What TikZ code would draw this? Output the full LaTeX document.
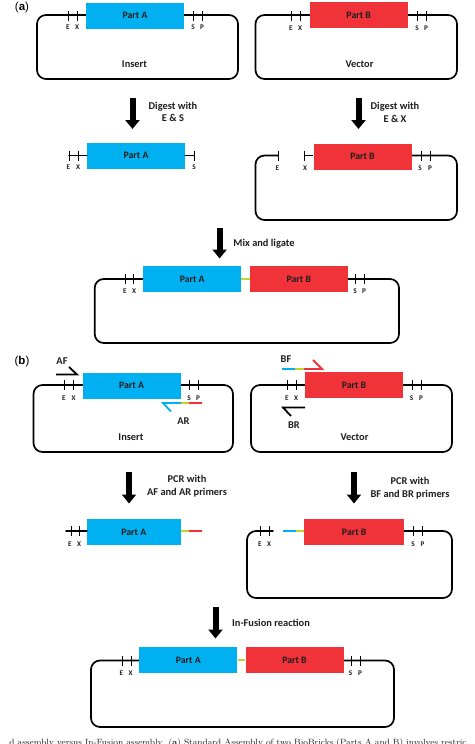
\documentclass[tikz,border=0pt]{standalone}
\usepackage{fontspec}
\setmainfont{Carlito}
\newfontfamily\headfont{Liberation Sans}
\newfontfamily\capfont{Latin Modern Roman}
\usetikzlibrary{arrows.meta}
\definecolor{pblue}{HTML}{00B0F0}
\definecolor{pred}{HTML}{EF3339}
\definecolor{pyellow}{HTML}{C6D02F}
\definecolor{ink}{HTML}{1E1E1E}
\tikzset{
  partbox/.style={fill=#1,minimum width=98pt,minimum height=26pt,inner sep=0pt,text=ink,font=\fontsize{9.8}{11}\selectfont\bfseries},
  dna/.style={draw=black,line width=1.7pt,line cap=round},
  plasmid/.style={dna,rounded corners=9pt},
  nick/.style={draw=black,line width=0.9pt},
  site/.style={inner sep=0pt,text=ink,font=\fontsize{7.2}{8}\selectfont\bfseries},
  lbl/.style={inner sep=0pt,text=ink,align=center,font=\fontsize{10.4}{12.6}\selectfont\bfseries},
  panel/.style={inner sep=0pt,text=black,font=\fontsize{11.5}{13}\headfont},
  bigarrow/.style={draw=black,line width=6pt,-{Triangle[width=14pt,length=9pt]}},
  prim/.style={line width=1.8pt},
}
% \sitetick{x}{y}{label}{label x}{label y}
\newcommand{\sitetick}[5]{\draw[nick] (#1,#2-5) -- (#1,#2+5); \node[site] at (#4,#5) {#3};}
\begin{document}
\begin{tikzpicture}[x=1pt,y=-1pt]
\useasboundingbox (0,0) rectangle (474,744);
\fill[white] (0,0) rectangle (474,744);

% ---------- panel a ----------
\node[panel] (pa) at (22,8) {(\textbf{a})};

\draw[plasmid] (86,15) -| (37,79) -| (238,15) -- (184,15);
\node[partbox=pblue] (a1) at (135,15.7) {Part A};
\sitetick{68}{15.5}{E}{68}{27.5}\sitetick{77}{15.5}{X}{77}{27.5}
\sitetick{193}{15.5}{S}{193}{27.5}\sitetick{202}{15.5}{P}{202}{27.5}
\node[lbl] (t1) at (134.5,64.5) {Insert};

\draw[plasmid] (309.5,15) -| (255.5,79) -| (457,15) -- (408,15);
\node[partbox=pred] (b1) at (358.7,15.3) {Part B};
\sitetick{291}{15.5}{E}{291}{28}\sitetick{300}{15.5}{X}{300}{28}
\sitetick{417}{15.5}{S}{417}{28}\sitetick{426}{15.5}{P}{426}{28}
\node[lbl] (t2) at (359.5,64.5) {Vector};

\coordinate (ar1s) at (132.5,98); \coordinate (ar1e) at (132.5,129);
\draw[bigarrow] (ar1s) -- (ar1e);
\node[lbl] (t3) at (173,112) {Digest with\\E \& S};
\coordinate (ar2s) at (358.5,98); \coordinate (ar2e) at (358.5,129);
\draw[bigarrow] (ar2s) -- (ar2e);
\node[lbl] (t4) at (395,112.5) {Digest with\\E \& X};

\node[partbox=pblue] (a2) at (136,155.7) {Part A};
\coordinate (a2l) at (69,155.5); \coordinate (a2r) at (194,155.5);
\draw[dna] (a2l) -- (a2.west |- a2l); \draw[dna] (a2.east |- a2r) -- (a2r);
\sitetick{69}{155.5}{E}{68.5}{167}\sitetick{78}{155.5}{X}{78}{167}
\sitetick{194}{155.5}{S}{194}{167}

\coordinate (b2e) at (278,155.5);
\draw[plasmid] (b2e) -| (255.5,220) -| (457,155.5) -- (412,155.5);
\node[partbox=pred] (b2) at (362.5,156.5) {Part B};
\draw[draw=black,line width=0.8pt] (304,155.5) -- (b2.west |- 0,155.5);
\sitetick{278}{155.5}{E}{277.5}{168}\sitetick{304}{155.5}{X}{305}{168}
\sitetick{421}{155.5}{S}{420}{168}\sitetick{430}{155.5}{P}{430}{168}

\coordinate (ar3s) at (219.6,228); \coordinate (ar3e) at (219.6,258.5);
\draw[bigarrow] (ar3s) -- (ar3e);
\node[lbl] (t5) at (264,243.5) {Mix and ligate};

\draw[plasmid] (143,279) -| (94.7,343) -| (399,279) -- (348,279);
\node[partbox=pblue] (a3) at (192.2,279) {Part A};
\node[partbox=pred] (b3) at (298.8,279) {Part B};
\draw[pyellow,line width=1.7pt] (a3.east) -- (b3.west);
\sitetick{125}{279}{E}{125}{291.5}\sitetick{133.5}{279}{X}{134}{291.5}
\sitetick{355}{279}{S}{355}{291.5}\sitetick{364}{279}{P}{364}{291.5}

% ---------- panel b ----------
\node[panel] (pb) at (22,362) {(\textbf{b})};

\draw[plasmid] (82.5,385) -| (33.5,452) -| (233,385) -- (180.5,385);
\node[partbox=pblue] (a4) at (131.5,385.5) {Part A};
\sitetick{64.5}{385}{E}{64}{398}\sitetick{73}{385}{X}{73.5}{398}
\sitetick{189}{385}{S}{189}{398}\sitetick{198}{385}{P}{198}{398}
\node[lbl] (t6) at (131,437) {Insert};
\node[lbl] (af) at (62,361) {AF};
\draw[prim,black] (56,374.5) -- (77,374.5) -- (69,367);
\node[lbl] (ar) at (183.5,421) {AR};
\draw[prim,pblue] (171,411.5) -- (163,403) -- (181,403);
\draw[prim,pyellow] (181,403) -- (189,403);
\draw[prim,pred] (189,403) -- (202,403);

\draw[plasmid] (305,385) -| (251,452) -| (452,385) -- (403,385);
\node[partbox=pred] (b4) at (354,385) {Part B};
\sitetick{287}{385}{E}{287}{398}\sitetick{296}{385}{X}{296}{398}
\sitetick{412}{385}{S}{411.5}{398}\sitetick{421}{385}{P}{421}{398}
\node[lbl] (t7) at (354.5,437) {Vector};
\node[lbl] (bf) at (286,359) {BF};
\draw[prim,pblue] (282,369) -- (295,369);
\draw[prim,pyellow] (295,369) -- (304,369);
\draw[prim,pred] (304,369) -- (322,369) -- (313,360);
\node[lbl] (br) at (294,425) {BR};
\draw[prim,black] (305,407.5) -- (283,407.5) -- (291,416);

\coordinate (ar4s) at (129,472); \coordinate (ar4e) at (129,503.5);
\draw[bigarrow] (ar4s) -- (ar4e);
\node[lbl] (t8) at (187,486) {PCR with\\AF and AR primers};
\coordinate (ar5s) at (354,472); \coordinate (ar5e) at (354,503.5);
\draw[bigarrow] (ar5s) -- (ar5e);
\node[lbl] (t9) at (410,488) {PCR with\\BF and BR primers};

\node[partbox=pblue,minimum width=93.5pt] (a5) at (133.8,532) {Part A};
\coordinate (a5l) at (66,531);
\draw[dna] (a5l) -- (a5.west |- a5l);
\sitetick{71}{531}{E}{70}{544}\sitetick{79.5}{531}{X}{79}{544}
\draw[prim,pyellow] (a5.east |- a5l) -- (189,531);
\draw[prim,pred] (189,531) -- (202,531);

\coordinate (b5e) at (273,531);
\draw[plasmid] (b5e) -| (247,598) -| (452,531) -- (404,531);
\node[partbox=pred,minimum width=99.5pt] (b5) at (354.2,532) {Part B};
\draw[prim,pblue] (282.5,531) -- (296,531);
\draw[prim,pyellow] (296,531) -- (b5.west |- b5e);
\sitetick{260}{531}{E}{260}{544.5}\sitetick{269}{531}{X}{269}{544.5}
\sitetick{413}{531}{S}{413}{544.5}\sitetick{422}{531}{P}{422.5}{544.5}

\coordinate (ar6s) at (215.5,607); \coordinate (ar6e) at (215.5,638.5);
\draw[bigarrow] (ar6s) -- (ar6e);
\node[lbl] (t10) at (271,623) {In-Fusion reaction};

\draw[plasmid] (139.5,660.5) -| (91,727) -| (394,660.5) -- (343.5,660.5);
\node[partbox=pblue] (a6) at (188.3,660.3) {Part A};
\node[partbox=pred] (b6) at (294.5,660.3) {Part B};
\draw[pyellow,line width=1.7pt] (a6.east) -- (b6.west);
\sitetick{122}{660.5}{E}{121.5}{673}\sitetick{131}{660.5}{X}{130.5}{673}
\sitetick{351}{660.5}{S}{350.5}{673}\sitetick{360}{660.5}{P}{360}{673}

% cut-off caption line at the page edge
\node[anchor=base,inner sep=0pt,text=ink,font=\fontsize{9.05}{10}\capfont] (cap) at (238,745.5)
  {d assembly versus In-Fusion assembly. (\textbf{a}) Standard Assembly of two BioBricks (Parts A and B) involves restric};
\end{tikzpicture}
\end{document}
